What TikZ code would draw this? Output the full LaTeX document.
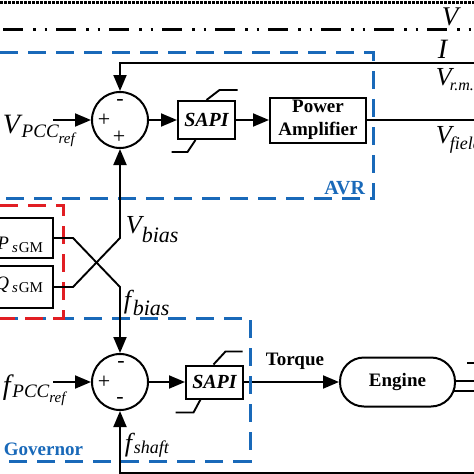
\documentclass[tikz,border=0pt]{standalone}
\usepackage{fontspec}
\setmainfont{Liberation Serif}
\usetikzlibrary{arrows.meta}

\definecolor{avrblue}{RGB}{25,105,185}
\definecolor{boxred}{RGB}{225,30,35}
\newcommand{\fsz}[1]{\fontsize{#1}{#1}\selectfont}

\begin{document}
\begin{tikzpicture}[x=1pt,y=-1pt,line width=1.9pt,
    arr/.style={-{Triangle[length=16pt,width=13pt]}},
    sumnode/.style={draw,circle,minimum size=56pt,inner sep=0pt,line width=2pt},
    blk/.style={draw,rectangle,inner sep=0pt,line width=2pt},
    bluedash/.style={avrblue,line width=3pt,dash pattern=on 18pt off 10pt},
    reddash/.style={boxred,line width=3pt,dash pattern=on 18pt off 10pt},
    sgn/.style={font=\fsz{22},inner sep=0pt},
    boldtxt/.style={font=\fsz{19}\bfseries},
    lbl/.style={anchor=base west,inner sep=0pt}]
    \useasboundingbox (0,0) rectangle (474,474);
    % Measured signals
    \draw[line width=3.5pt,dash pattern=on 2.5pt off 1.5pt] (0,2.5) -- (474,2.5);
    \draw[line width=3pt,dash pattern=on 20pt off 10pt on 2.5pt off 9pt on 2.5pt off 9pt] (3,29) -- (474,29);
    \node[lbl,font=\fsz{27}\itshape] (vlbl) at (441,25) {V};
    \node[lbl,font=\fsz{28}\itshape] (ilbl) at (437,58) {I};
    % AVR loop
    \node[sumnode] (sumA) at (120,120) {};
    \node[sgn] (sumAl) at (104,120) {+};
    \node[sgn] (sumAt) at (120,102) {-};
    \node[sgn] (sumAb) at (119,137) {+};
    \node[blk,minimum width=57pt,minimum height=38pt,font=\fsz{20}\bfseries\itshape] (sapiA) at (206.5,120) {SAPI};
    \node[blk,minimum width=96pt,minimum height=45pt,align=center,font=\fsz{19}\bfseries] (amp) at (318,120) {Power\\[4pt]Amplifier};
    \draw (sapiA.north) -- ++(13,-10) -- ++(18,0);
    \draw ([xshift=-11pt]sapiA.south) -- ++(-8,12) -- ++(-16,0);
    \coordinate (vin) at (53,120);
    \coordinate (vrms) at (480,63);
    \coordinate (vfld) at (480,120);
    \draw[arr] (vin) -- (sumA.west);
    \draw[arr] (sumA.east) -- (sapiA.west);
    \draw[arr] (sapiA.east) -- (amp.west);
    \draw (amp.east) -- (vfld);
    \draw[arr] (vrms) -| (sumA.north);
    \node[lbl] (vpcc) at (2,133) {{\fsz{28}\itshape V}\,\raisebox{-4pt}{\fsz{19}\itshape PCC}\raisebox{-10pt}{\fsz{15}\itshape ref}};
    \node[lbl] (vrmslbl) at (435,85) {{\fsz{26}\itshape V}\kern-2pt\raisebox{-5pt}{\fsz{16}\itshape r.m.s}};
    \node[lbl] (vfldlbl) at (435,143) {{\fsz{26}\itshape V}\kern-2pt\raisebox{-6pt}{\fsz{18}\itshape field}};
    \draw[bluedash] (0,52) -- (373,52) -- (373,198) -- (0,198);
    \node[anchor=base east,inner sep=0pt,text=avrblue,font=\fsz{20}\bfseries] (avrlbl) at (366,194) {AVR};
    % Governor loop
    \node[sumnode] (sumG) at (120,382) {};
    \node[sgn] (sumGl) at (104,382) {+};
    \node[sgn] (sumGt) at (121,364) {-};
    \node[sgn] (sumGb) at (120,400) {-};
    \node[blk,minimum width=57pt,minimum height=33pt,font=\fsz{20}\bfseries\itshape] (sapiG) at (214.5,382) {SAPI};
    \node[draw,rounded corners=24pt,minimum width=115pt,minimum height=49pt,line width=2pt,boldtxt] (eng) at (397.5,382) {Engine};
    \draw ([xshift=-1pt]sapiG.north) -- ++(12,-13) -- ++(17,0);
    \draw ([xshift=-14pt]sapiG.south) -- ++(-7,13) -- ++(-18,0);
    \coordinate (fin) at (53,382);
    \coordinate (shaft) at (480,473);
    \coordinate (outA) at (480,381);
    \coordinate (outB) at (480,391);
    \coordinate (tickL) at (467,363);
    \coordinate (tickR) at (480,363);
    \draw[arr] (fin) -- (sumG.west);
    \draw[arr] (sumG.east) -- (sapiG.west);
    \draw[arr] (sapiG.east) -- (eng.west);
    \draw[arr] (shaft) -| (sumG.south);
    \draw ([yshift=1pt]eng.east) -- (outA);
    \draw ([xshift=-2pt,yshift=-9pt]eng.east) -- (outB);
    \draw (tickL) -- (tickR);
    \node[boldtxt,anchor=base,inner sep=0pt] (trq) at (295,365) {Torque};
    \node[lbl] (fpcc) at (2,394) {{\fsz{28}\itshape f}\,\raisebox{-3pt}{\fsz{19}\itshape PCC}\raisebox{-8pt}{\fsz{15}\itshape ref}};
    \node[lbl] (fshft) at (124,451) {{\fsz{26}\itshape f}\,\raisebox{-2pt}{\fsz{18}\itshape shaft}};
    \draw[bluedash] (0,318) -- (250,318) -- (250,461) -- (0,461);
    \node[lbl,text=avrblue,font=\fsz{19}\bfseries] (govlbl) at (3,455) {Governor};
    % Droop blocks
    \draw[reddash] (0,205) -- (63,205) -- (63,318) -- (0,318);
    \node[blk,minimum width=60pt,minimum height=40pt] (pbox) at (23,238) {};
    \node[blk,minimum width=60pt,minimum height=42pt] (qbox) at (23,287) {};
    \node[anchor=base east,inner sep=0pt] (plbl) at (44,249) {{\fsz{19}\itshape P}\hspace{3pt}\raisebox{-3pt}{\fsz{15}\itshape s\hspace{1pt}\upshape GM}};
    \node[anchor=base east,inner sep=0pt] (qlbl) at (44,289) {{\fsz{19}\itshape Q}\hspace{3pt}\raisebox{-3pt}{\fsz{15}\itshape s\hspace{1pt}\upshape GM}};
    \coordinate (pbend) at (73,238);
    \coordinate (qbend) at (73,287);
    \coordinate (vbias) at (120,238);
    \coordinate (fbias) at (120,287);
    \draw[arr] (pbox.east) -- (pbend) -- (fbias) -- (sumG.north);
    \draw[arr] (qbox.east) -- (qbend) -- (vbias) -- (sumA.south);
    \node[lbl] (vblbl) at (125,233) {{\fsz{26}\itshape V}\raisebox{-9pt}{\fsz{22}\itshape bias}};
    \node[lbl] (fblbl) at (123,308) {{\fsz{26}\itshape f}\,\raisebox{-7pt}{\fsz{22}\itshape bias}};
\end{tikzpicture}
\end{document}
